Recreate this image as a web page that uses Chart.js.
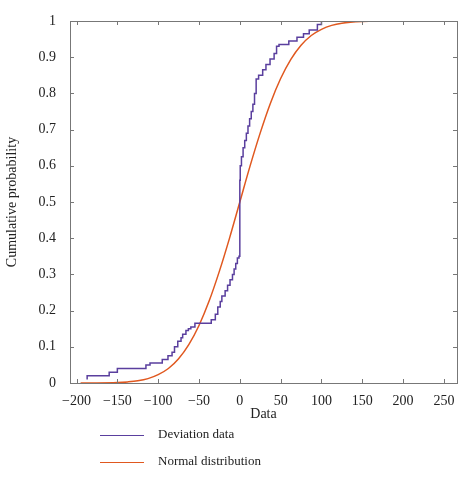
<!DOCTYPE html><html><head><meta charset="utf-8">
<script src="https://cdn.jsdelivr.net/npm/chart.js@4/dist/chart.umd.min.js"></script>
<style>body{margin:0;background:#fff;font-family:"Liberation Serif",serif}
#w{position:relative;width:474px;height:499px}
.lg{position:absolute;left:100px;font-size:13px;color:#222}
.lg span{display:inline-block;width:44px;height:0;border-top:1.5px solid;vertical-align:middle;margin-right:14px}
</style></head><body><div id="w"><canvas id="c" width="474" height="499"></canvas>
<div class="lg" style="top:426px"><span style="border-color:#5a3f9e"></span>Deviation data</div>
<div class="lg" style="top:453px"><span style="border-color:#e0581f"></span>Normal distribution</div></div>
<script>
const devX=[-187,-160,-150,-115,-110,-95,-88,-83,-80,-76,-72,-70,-66,-63,-60,-55,-35,-30,-27,-24,-22,-18,-15,-12,-9,-7,-5,-3,-1,0,0.5,2,4,6,8,10,12,14,16,18,20,23,28,32,37,42,45,48,60,70,78,85,95,100,246];
const devY=[0.01,0.02,0.03,0.04,0.05,0.055,0.065,0.075,0.085,0.1,0.115,0.125,0.135,0.145,0.15,0.155,0.165,0.175,0.19,0.21,0.225,0.24,0.255,0.27,0.285,0.3,0.315,0.33,0.345,0.35,0.56,0.6,0.625,0.65,0.67,0.69,0.71,0.73,0.75,0.77,0.8,0.84,0.85,0.865,0.88,0.895,0.91,0.93,0.935,0.945,0.955,0.965,0.975,0.99,1];
const normX=[-195,-175,-150,-137.5,-125,-112.5,-100,-87.5,-75,-62.5,-50,-37.5,-25,-12.5,0,12.5,25,37.5,50,62.5,75,87.5,100,112.5,125,150,175,200,266];
const normY=[0.0001,0.0002,0.0013,0.003,0.006,0.012,0.023,0.04,0.067,0.106,0.159,0.227,0.309,0.401,0.5,0.599,0.691,0.773,0.841,0.894,0.933,0.96,0.977,0.988,0.994,0.9987,0.9998,1,1];
const xTicks=[-200,-150,-100,-50,0,50,100,150,200,250];
const yTicks=[0,0.1,0.2,0.3,0.4,0.5,0.6,0.7,0.8,0.9,1];
const F='"Liberation Serif", serif';
const frame={id:'frame',afterDraw(c){const a=c.chartArea,x=c.ctx,sx=c.scales.x,sy=c.scales.y;x.save();x.strokeStyle='#777';x.lineWidth=1;
x.strokeRect(a.left+.5,a.top+.5,a.width,a.height);x.beginPath();
xTicks.forEach(v=>{const p=Math.round(sx.getPixelForValue(v))+.5;x.moveTo(p,a.bottom);x.lineTo(p,a.bottom-4);x.moveTo(p,a.top);x.lineTo(p,a.top+4);});
yTicks.forEach(v=>{const p=Math.round(sy.getPixelForValue(v))+.5;x.moveTo(a.left,p);x.lineTo(a.left+4,p);x.moveTo(a.right,p);x.lineTo(a.right-4,p);});
x.stroke();x.restore();}};
new Chart(document.getElementById('c'),{type:'line',data:{datasets:[
{data:devX.map((v,i)=>({x:v,y:devY[i]})),borderColor:'#5a3f9e',borderWidth:1.5,stepped:'after',pointRadius:0},
{data:normX.map((v,i)=>({x:v,y:normY[i]})),borderColor:'#e0581f',borderWidth:1.5,cubicInterpolationMode:'monotone',pointRadius:0}]},
options:{responsive:false,animation:false,layout:{padding:{top:21,right:17,left:0,bottom:72}},plugins:{legend:{display:false},tooltip:{enabled:false}},
scales:{x:{type:'linear',min:-208,max:266,afterBuildTicks(s){s.ticks=xTicks.map(v=>({value:v}));},afterFit(s){s.height=44;},
grid:{display:false},border:{display:false},ticks:{color:'#222',font:{family:F,size:14},padding:2,maxRotation:0,callback:v=>v<0?'\u2212'+Math.abs(v):String(v)},
title:{display:true,text:'Data',color:'#222',font:{family:F,size:14},padding:{top:4}}},
y:{min:0,max:1,afterBuildTicks(s){s.ticks=yTicks.map(v=>({value:v}));},afterFit(s){s.width=70;},grid:{display:false},border:{display:false},
ticks:{color:'#222',font:{family:F,size:14},padding:6,callback:v=>String(+v.toFixed(1))},
title:{display:true,text:'Cumulative probability',color:'#222',font:{family:F,size:14},padding:{bottom:4}}}}},plugins:[frame]});
</script></body></html>
